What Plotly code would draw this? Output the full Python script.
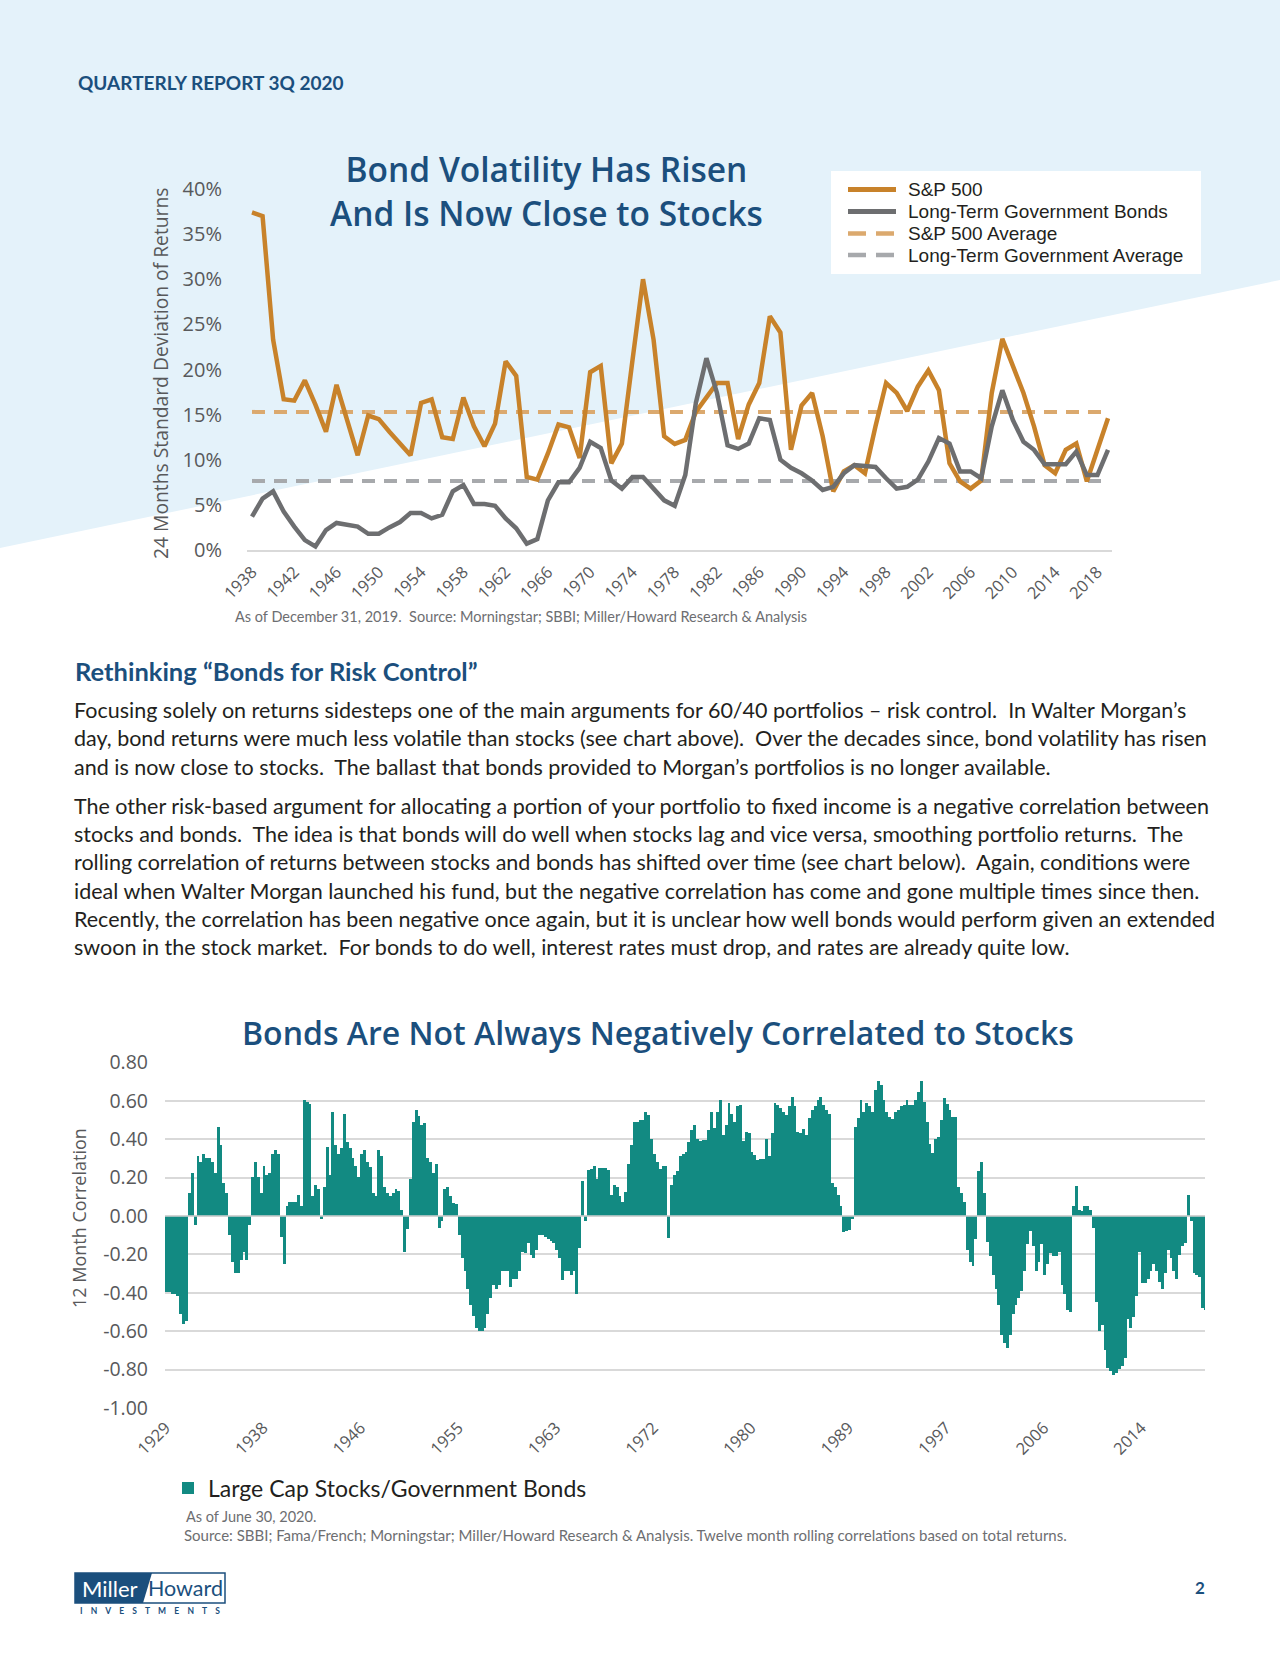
import plotly.graph_objects as go

W, H = 1280, 1656

# ---------------- Chart 1 data: 24-month standard deviation of returns (%) -------------
years = list(range(1938, 2020))
sp500_vol = [37.4, 37.0, 23.3, 16.7, 16.55, 18.8, 16.1, 13.1, 18.3, 14.4,
             10.5, 14.9, 14.5, 13.1, 11.8, 10.5, 16.3, 16.7, 12.5, 12.3,
             16.9, 13.7, 11.5, 14.0, 20.9, 19.3, 8.1, 7.8, 10.7, 13.9,
             13.6, 10.2, 19.7, 20.4, 9.6, 11.8, 21.0, 30.0, 23.3, 12.6,
             11.75, 12.2, 15.3, 16.8, 18.5, 18.5, 12.3, 16.1, 18.5, 25.9,
             24.1, 11.1, 16.0, 17.4, 12.6, 6.5, 8.7, 9.4, 8.5, 13.7,
             18.5, 17.4, 15.4, 18.1, 19.9, 17.7, 9.6, 7.6, 6.8, 7.7,
             17.4, 23.4, 20.4, 17.4, 13.7, 9.4, 8.5, 11.1, 11.8, 7.6,
             11.1, 14.6]
bond_vol = [3.7, 5.7, 6.5, 4.25, 2.6, 1.1, 0.4, 2.2, 3.0, 2.8,
            2.6, 1.8, 1.8, 2.5, 3.1, 4.1, 4.1, 3.5, 3.9, 6.5,
            7.2, 5.1, 5.1, 4.9, 3.5, 2.4, 0.7, 1.2, 5.5, 7.5,
            7.5, 9.1, 12.0, 11.3, 7.7, 6.8, 8.1, 8.1, 6.8, 5.5,
            4.9, 8.3, 16.3, 21.25, 17.4, 11.6, 11.2, 11.8, 14.6, 14.4,
            10.0, 9.1, 8.5, 7.7, 6.65, 7.0, 8.5, 9.4, 9.3, 9.2,
            7.95, 6.8, 7.0, 7.8, 9.8, 12.4, 11.8, 8.7, 8.7, 7.95,
            13.7, 17.7, 14.4, 12.0, 11.1, 9.5, 9.5, 9.5, 10.9, 8.3,
            8.3, 11.1]
sp500_avg = 15.3
bond_avg = 7.65
vol_ticks = [1938 + 4 * i for i in range(21)]
vol_series_names = ["S&P 500", "Long-Term Government Bonds",
                    "S&P 500 Average", "Long-Term Government Average"]

# ---------------- Chart 2 data: 12-month rolling correlation, quarterly from Dec 1929 ----
corr_1930s = [-0.40, -0.40, -0.41, -0.41, -0.42, -0.51, -0.565, -0.55, 0.12, 0.22,
              -0.05, 0.31, 0.28, 0.32, 0.30, 0.30, 0.28, 0.22, 0.46, 0.37,
              0.17, 0.12, -0.10, -0.24, -0.30, -0.30, -0.23, -0.19, -0.23, -0.05,
              0.20, 0.28, 0.20, 0.12, 0.26, 0.21, 0.22, 0.32, 0.34, 0.32]
corr_1940s = [-0.11, -0.25, 0.05, 0.07, 0.07, 0.07, 0.11, 0.05, 0.60, 0.59,
              0.58, 0.10, 0.16, 0.14, -0.02, 0.15, 0.36, 0.21, 0.54, 0.37,
              0.32, 0.35, 0.53, 0.385, 0.35, 0.30, 0.26, 0.20, 0.32, 0.34,
              0.28, 0.255, 0.12, 0.10, 0.34, 0.31, 0.15, 0.12, 0.10, 0.12]
corr_1950s = [0.14, 0.13, 0.03, -0.19, -0.07, 0.19, 0.49, 0.55, 0.52, 0.47,
              0.48, 0.30, 0.28, 0.22, 0.27, -0.065, -0.03, 0.14, 0.15, 0.10,
              0.065, 0.06, -0.10, -0.22, -0.29, -0.38, -0.465, -0.525, -0.585, -0.60,
              -0.60, -0.585, -0.51, -0.43, -0.36, -0.38, -0.36, -0.29, -0.29, -0.29]
corr_1960s = [-0.37, -0.33, -0.33, -0.29, -0.19, -0.195, -0.145, -0.205, -0.22, -0.18,
              -0.10, -0.10, -0.11, -0.12, -0.13, -0.145, -0.18, -0.22, -0.335, -0.29,
              -0.29, -0.31, -0.29, -0.41, -0.17, 0.18, -0.03, 0.24, 0.245, 0.26,
              0.19, 0.25, 0.25, 0.25, 0.24, 0.11, 0.16, 0.15, 0.10, 0.07]
corr_1970s = [0.125, 0.27, 0.37, 0.49, 0.49, 0.50, 0.50, 0.54, 0.525, 0.40,
              0.32, 0.28, 0.245, 0.26, 0.26, -0.115, 0.16, 0.21, 0.23, 0.31,
              0.32, 0.33, 0.385, 0.445, 0.47, 0.40, 0.39, 0.395, 0.395, 0.445,
              0.54, 0.455, 0.54, 0.60, 0.42, 0.47, 0.585, 0.53, 0.49, 0.57]
corr_1980s = [0.575, 0.39, 0.435, 0.43, 0.33, 0.315, 0.29, 0.295, 0.295, 0.40,
              0.31, 0.43, 0.585, 0.575, 0.56, 0.54, 0.525, 0.57, 0.62, 0.57,
              0.435, 0.43, 0.45, 0.42, 0.51, 0.55, 0.57, 0.60, 0.62, 0.575,
              0.55, 0.53, 0.17, 0.15, 0.11, 0.05, -0.085, -0.08, -0.075, -0.015]
corr_1990s = [0.46, 0.51, 0.60, 0.54, 0.585, 0.57, 0.54, 0.655, 0.70, 0.68,
              0.60, 0.54, 0.515, 0.505, 0.54, 0.55, 0.57, 0.575, 0.60, 0.575,
              0.575, 0.60, 0.645, 0.70, 0.59, 0.49, 0.375, 0.325, 0.40, 0.41,
              0.50, 0.61, 0.58, 0.55, 0.515, 0.515, 0.15, 0.12, 0.07, -0.18]
corr_2000s = [-0.24, -0.26, -0.12, 0.23, 0.28, 0.12, -0.135, -0.21, -0.31, -0.38,
              -0.465, -0.62, -0.665, -0.69, -0.62, -0.51, -0.465, -0.43, -0.39, -0.29,
              -0.15, -0.08, -0.16, -0.29, -0.24, -0.15, -0.31, -0.25, -0.195, -0.21,
              -0.21, -0.19, -0.36, -0.41, -0.49, -0.50, 0.05, 0.155, 0.03, 0.025]
corr_2010s = [0.05, 0.05, 0.03, -0.065, -0.45, -0.60, -0.57, -0.70, -0.795, -0.81,
              -0.83, -0.82, -0.80, -0.785, -0.74, -0.54, -0.585, -0.53, -0.42, -0.19,
              -0.35, -0.35, -0.33, -0.29, -0.25, -0.29, -0.345, -0.38, -0.30, -0.18,
              -0.22, -0.29, -0.33, -0.205, -0.16, -0.145, 0.105, -0.03, -0.30, -0.31]
corr_2019_2020 = [-0.32, -0.48, -0.49]
corr_tick_labels = ["1929", "1938", "1946", "1955", "1963", "1972",
                    "1980", "1989", "1997", "2006", "2014"]
corr_tick_step_months = 102
n_months = 1087  # Dec 1929 .. Jun 2020
corr_axis_vals = [-1.0, -0.8, -0.6, -0.4, -0.2, 0.0, 0.2, 0.4, 0.6, 0.8]
corr_axis_text = ["-1.00", "-0.80", "-0.60", "-0.40", "-0.20", "0.00",
                  "0.20", "0.40", "0.60", "0.80"]

corr = (corr_1930s + corr_1940s + corr_1950s + corr_1960s + corr_1970s +
        corr_1980s + corr_1990s + corr_2000s + corr_2010s + corr_2019_2020)
corr_x = [3 * i + 1 for i in range(len(corr))]          # quarter centres, in months
corr_tickvals = [corr_tick_step_months * i for i in range(len(corr_tick_labels))]

# ---------------- styling -------------------------------------------------------------
BLUE = "#1b4f7d"
ORANGE = "#c8822a"
GREY = "#6d6e70"
ORANGE_AVG = "#dba96e"
GREY_AVG = "#a7a9ac"
TEAL = "#128a82"
TXT = "#231f20"
AX = "#58595b"
NOTE = "#6d6e71"
BODY_FONT = "Lato"
CHART_FONT = "Open Sans"
LEGEND_FONT = "Liberation Sans"
series_styles = [dict(color=ORANGE, width=4.5), dict(color=GREY, width=4.5),
                 dict(color=ORANGE_AVG, width=4, dash="13px,9px"),
                 dict(color=GREY_AVG, width=4, dash="13px,9px")]


def fx(p):
    return p / W


def fy(p):
    return 1 - p / H


fig = go.Figure()

# Chart 1 traces (averages below, bonds on top)
fig.add_trace(go.Scatter(x=[years[0], years[-1]], y=[sp500_avg, sp500_avg], mode="lines",
                         name=vol_series_names[2], line=series_styles[2], showlegend=False,
                         xaxis="x", yaxis="y", hoverinfo="skip"))
fig.add_trace(go.Scatter(x=[years[0], years[-1]], y=[bond_avg, bond_avg], mode="lines",
                         name=vol_series_names[3], line=series_styles[3], showlegend=False,
                         xaxis="x", yaxis="y", hoverinfo="skip"))
fig.add_trace(go.Scatter(x=years, y=sp500_vol, mode="lines", name=vol_series_names[0],
                         line=series_styles[0], showlegend=False, xaxis="x", yaxis="y"))
fig.add_trace(go.Scatter(x=years, y=bond_vol, mode="lines", name=vol_series_names[1],
                         line=series_styles[1], showlegend=False, xaxis="x", yaxis="y"))

# Chart 2 trace
fig.add_trace(go.Bar(x=corr_x, y=corr, width=3, name="Large Cap Stocks/Government Bonds",
                     marker=dict(color=TEAL, line=dict(width=0)), xaxis="x2", yaxis="y2",
                     legend="legend2", showlegend=True))

ann = []


def text(x, y, s, size, color=TXT, family=BODY_FONT, weight=400, xanchor="left",
         angle=0, yanchor="middle"):
    ann.append(dict(x=fx(x), y=fy(y), xref="paper", yref="paper", text=s, showarrow=False,
                    xanchor=xanchor, yanchor=yanchor, textangle=angle,
                    font=dict(family=family, size=size, color=color, weight=weight)))


NB = "\u00a0"
text(76, 82, "QUARTERLY REPORT 3Q 2020", 19, BLUE, weight=700)
text(546, 191, "Bond Volatility Has Risen<br>And Is Now Close to Stocks", 33.5, BLUE,
     family=CHART_FONT, weight=600, xanchor="center")
text(160, 373, "24 Months Standard Deviation of Returns", 19.3, AX, CHART_FONT,
     xanchor="center", angle=-90)
text(233, 616, "As of December 31, 2019." + NB + " Source: Morningstar; SBBI; Miller/Howard Research & Analysis",
     14.5, NOTE)
text(73, 671, "Rethinking “Bonds for Risk Control”", 25.5, BLUE, weight=700)

p1 = ["Focusing solely on returns sidesteps one of the main arguments for 60/40 portfolios – risk control." + NB + " In Walter Morgan’s",
      "day, bond returns were much less volatile than stocks (see chart above)." + NB + " Over the decades since, bond volatility has risen",
      "and is now close to stocks." + NB + " The ballast that bonds provided to Morgan’s portfolios is no longer available."]
p2 = ["The other risk-based argument for allocating a portion of your portfolio to fixed income is a negative correlation between",
      "stocks and bonds." + NB + " The idea is that bonds will do well when stocks lag and vice versa, smoothing portfolio returns." + NB + " The",
      "rolling correlation of returns between stocks and bonds has shifted over time (see chart below)." + NB + " Again, conditions were",
      "ideal when Walter Morgan launched his fund, but the negative correlation has come and gone multiple times since then.",
      "Recently, the correlation has been negative once again, but it is unclear how well bonds would perform given an extended",
      "swoon in the stock market." + NB + " For bonds to do well, interest rates must drop, and rates are already quite low."]
for i, s in enumerate(p1):
    text(72, 709.5 + 28.7 * i, s, 21.5)
for i, s in enumerate(p2):
    text(72, 805.5 + 28.35 * i, s, 21.5)

text(658, 1032, "Bonds Are Not Always Negatively Correlated to Stocks", 32, BLUE,
     family=CHART_FONT, weight=600, xanchor="center")
text(79, 1218, "12 Month Correlation", 18, AX, CHART_FONT, xanchor="center", angle=-90)
text(184, 1516, "As of June 30, 2020.", 14.5, NOTE)
text(182, 1535, "Source: SBBI; Fama/French; Morningstar; Miller/Howard Research & Analysis. Twelve month rolling correlations based on total returns.",
     15, NOTE)

# logo + page number
SP = NB * 3 + " "
text(110, 1588, "Miller", 22, "white", xanchor="center")
text(185, 1588, "Howard", 21.5, BLUE, xanchor="center")
text(150, 1611, SP.join(list("INVESTMENTS")), 8.5, BLUE, weight=700, xanchor="center")
text(1200, 1587, "2", 17, BLUE, weight=700, xanchor="center")

shapes = [
    dict(type="path", xref="paper", yref="paper", layer="below",
         path=f"M 0 1 L 1 1 L 1 {fy(280)} L 0 {fy(548)} Z",
         fillcolor="#e4f2fa", line=dict(width=0)),
    dict(type="rect", xref="paper", yref="paper", layer="below",
         x0=fx(75), x1=fx(225), y0=fy(1603), y1=fy(1573),
         line=dict(color=BLUE, width=1.5), fillcolor="white"),
    dict(type="path", xref="paper", yref="paper", layer="below",
         path=f"M {fx(75)} {fy(1573)} L {fx(152)} {fy(1573)} L {fx(143)} {fy(1603)} L {fx(75)} {fy(1603)} Z",
         fillcolor=BLUE, line=dict(width=0)),
    dict(type="line", xref="x2", yref="y2", layer="above", x0=-0.5, x1=n_months - 0.5,
         y0=0, y1=0, line=dict(color="#d0d0d0", width=1.5)),
    # chart-1 legend box
    dict(type="rect", xref="paper", yref="paper", layer="above",
         x0=fx(831), x1=fx(1201), y0=fy(274), y1=fy(171),
         fillcolor="white", line=dict(width=0)),
]

legend_rows_y = [189.5, 211.5, 233.5, 255]
for name, style, ry in zip(vol_series_names, series_styles, legend_rows_y):
    st = dict(style)
    st["width"] = 5 if "dash" not in st else 4.5
    if "dash" in st:
        st["dash"] = "18px,10px"
    shapes.append(dict(type="line", xref="paper", yref="paper", layer="above",
                       x0=fx(848), x1=fx(896), y0=fy(ry), y1=fy(ry), line=st))
    text(906, ry, name, 19, TXT, LEGEND_FONT)

fig.update_layout(
    width=W, height=H, autosize=False,
    margin=dict(l=0, r=0, t=0, b=0, pad=0, autoexpand=False),
    paper_bgcolor="white", plot_bgcolor="rgba(0,0,0,0)",
    showlegend=True,
    bargap=0,
    annotations=ann, shapes=shapes,
    xaxis=dict(domain=[fx(247), fx(1112)], range=[1937.527, 2019.378],
               tickmode="array", tickvals=vol_ticks, tickangle=-45,
               tickfont=dict(family=CHART_FONT, size=16.5, color=AX),
               showgrid=False, zeroline=False, showline=True, linecolor="#d9d9d9",
               linewidth=2, ticks="", ticklabelstandoff=4, anchor="y", automargin=False),
    yaxis=dict(domain=[fy(550), fy(189)], range=[0, 40], dtick=5, ticksuffix="%",
               tickfont=dict(family=CHART_FONT, size=20, color=AX),
               showgrid=False, zeroline=False, showline=False, ticks="",
               ticklabelstandoff=24, anchor="x", automargin=False),
    xaxis2=dict(domain=[fx(165), fx(1205)], range=[-0.5, n_months - 0.5],
                tickmode="array", tickvals=corr_tickvals, ticktext=corr_tick_labels,
                tickangle=-45, tickfont=dict(family=CHART_FONT, size=16.5, color=AX),
                showgrid=False, zeroline=False, showline=False, ticks="",
                ticklabelstandoff=6, anchor="y2", automargin=False),
    yaxis2=dict(domain=[fy(1408), fy(1062.3)], range=[-1.0, 0.8],
                tickmode="array", tickvals=corr_axis_vals, ticktext=corr_axis_text,
                tickfont=dict(family=CHART_FONT, size=19.5, color=AX),
                showgrid=True, gridcolor="#d9d9d9", gridwidth=2, zeroline=False,
                showline=False, ticks="", ticklabelstandoff=16, anchor="x2", automargin=False),
    legend2=dict(x=fx(168), y=fy(1488), xanchor="left", yanchor="middle",
                 bgcolor="rgba(0,0,0,0)",
                 font=dict(family=BODY_FONT, size=23, color=TXT)),
)

fig.write_html("out.html", config={"displayModeBar": False},
               post_script="document.body.style.margin='0px';document.body.style.padding='0px';")
